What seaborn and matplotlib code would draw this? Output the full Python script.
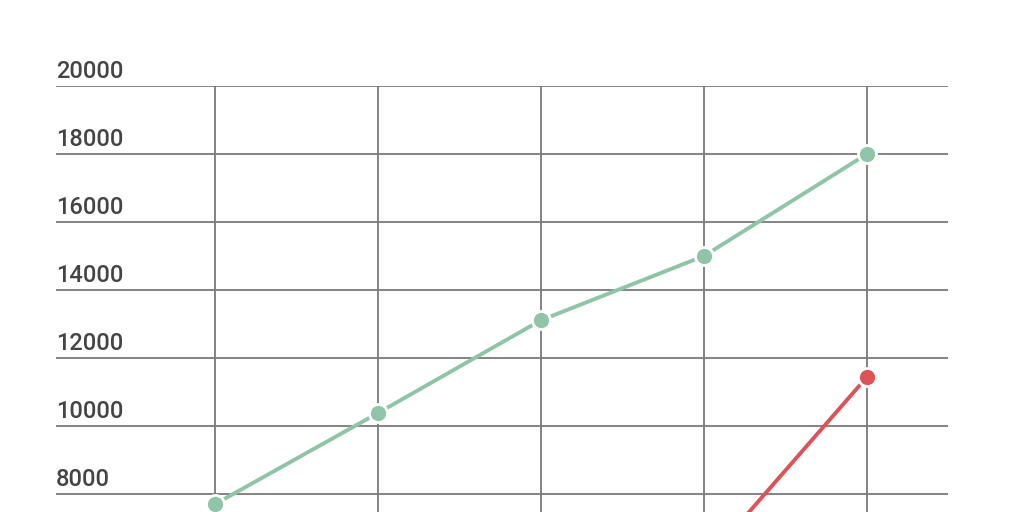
import pandas as pd
import matplotlib
matplotlib.use("Agg")
import matplotlib.pyplot as plt
import seaborn as sns

# values (the red series runs below the visible area)
periods = ["P1", "P2", "P3", "P4", "P5"]
green_values = [7700, 10380, 13110, 15000, 18000]
red_values = [2000, 3100, 4300, 5950, 11440]

df = pd.DataFrame({
    "period": periods * 2,
    "value": green_values + red_values,
    "series": ["green"] * 5 + ["red"] * 5,
})
df["x"] = df["period"].map({p: i for i, p in enumerate(periods)})

sns.set_style("white")
plt.rcParams["font.family"] = ["Roboto", "DejaVu Sans"]

fig = plt.figure(figsize=(10.24, 5.12), dpi=100)
ax = fig.add_axes([56 / 1024, 0.0, (948 - 56) / 1024, (512 - 86) / 512])

sns.lineplot(
    data=df, x="x", y="value", hue="series",
    palette={"green": "#8fc4a8", "red": "#dc5256"},
    marker="o", markersize=13, markeredgecolor="white", markeredgewidth=2,
    linewidth=2.8, legend=False, ax=ax, zorder=3,
)

ax.set_xlim(-0.975, 4.497)
ax.set_ylim(7470, 20000)
ax.set_xticks(range(len(periods)))
ax.set_yticks(range(8000, 20001, 2000))
ax.grid(True, color="#7a7a7a", linewidth=1.3)
ax.tick_params(axis="both", length=0, labelleft=False, labelbottom=False)
for s in ax.spines.values():
    s.set_visible(False)
ax.set_xlabel("")
ax.set_ylabel("")

# y labels sit just above their gridline, left aligned
for v in range(8000, 20001, 2000):
    ax.annotate(str(v), xy=(0, v), xycoords=("axes fraction", "data"),
                xytext=(0, 2.5), textcoords="offset points",
                ha="left", va="bottom", fontsize=17, fontweight="medium",
                color="#444444")

fig.savefig("out.png", dpi=100)
